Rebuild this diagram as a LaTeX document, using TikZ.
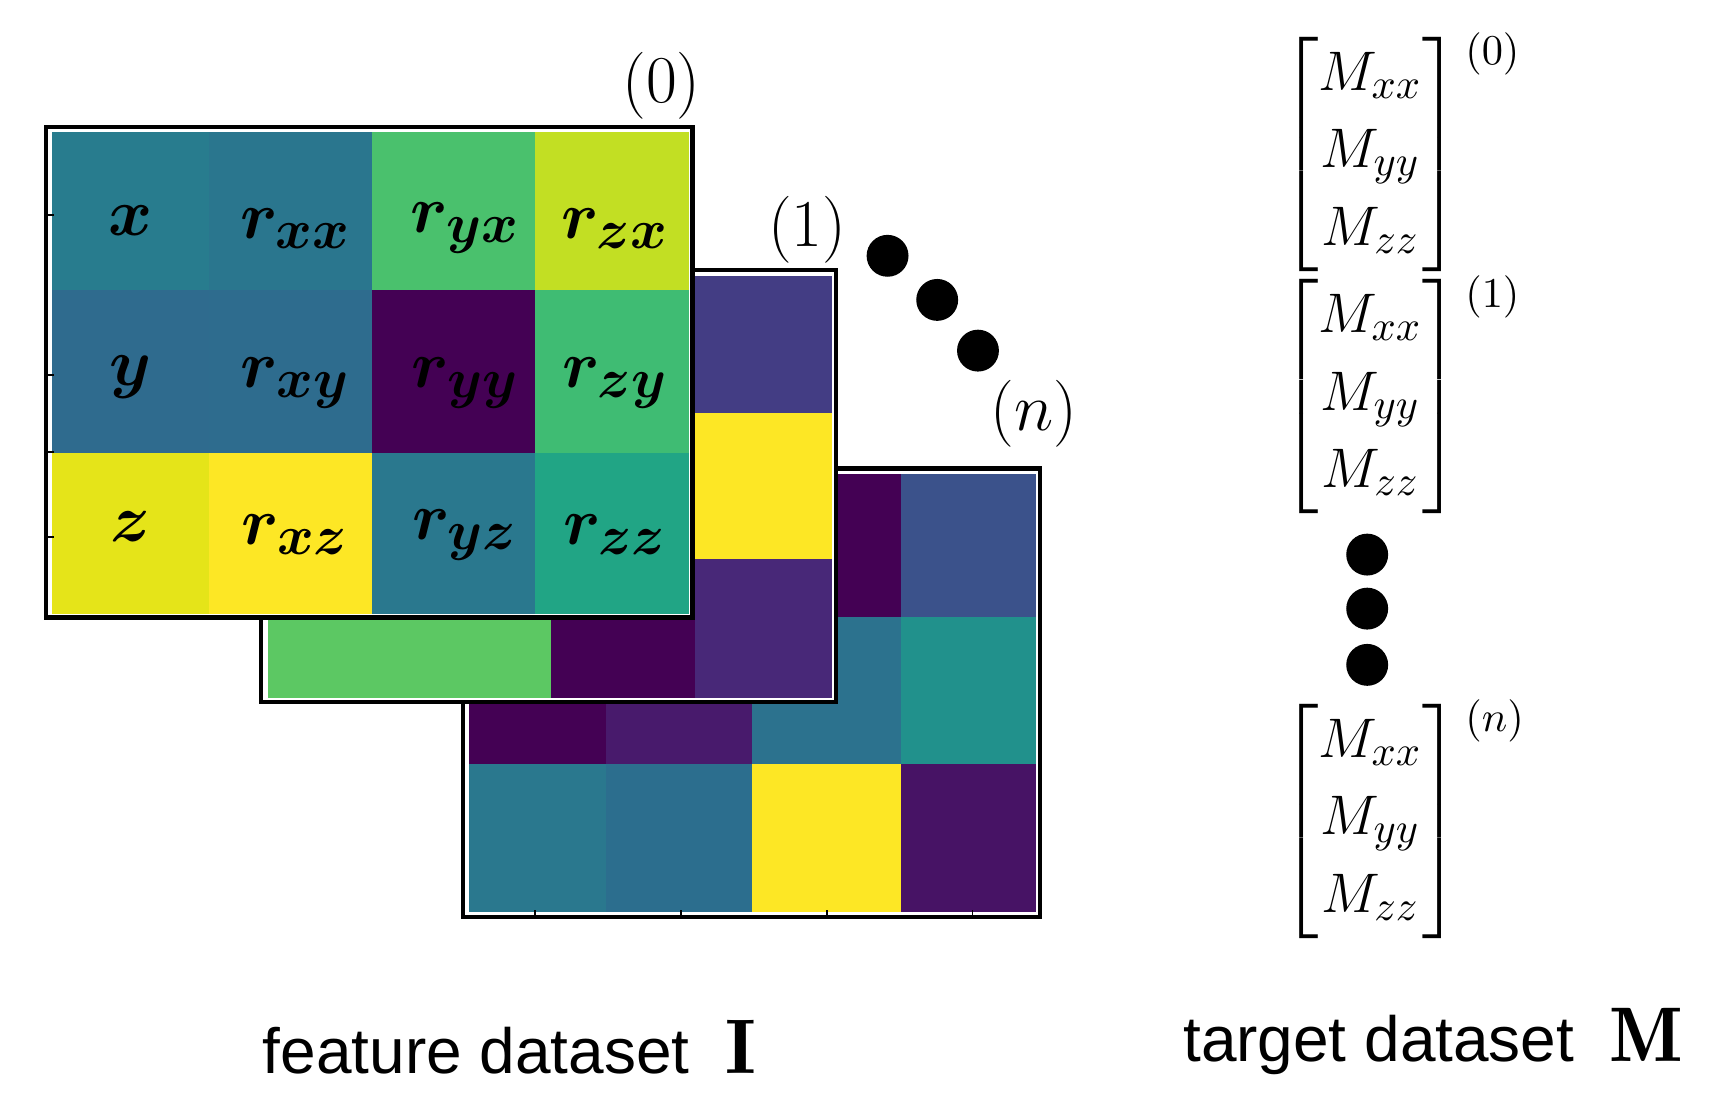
\documentclass[tikz,border=0pt]{standalone}
\usepackage{amsmath,bm}
\usepackage{fontspec}
\newfontfamily\lab{Liberation Sans}
\begin{document}
\begin{tikzpicture}[x=0.1mm,y=-0.1mm,
  frame/.style={draw=black,line width=1.1pt,fill=white},
  ml/.style={font=\fontsize{19}{22}\selectfont},
  pl/.style={font=\fontsize{17}{20}\selectfont},
  mm/.style={font=\fontsize{15}{17}\selectfont},
  sup/.style={font=\fontsize{11}{13}\selectfont},
  dot/.style={circle,fill=black,inner sep=0pt,minimum size=3.8mm}]
\useasboundingbox (0,0) rectangle (1560,1000);
\definecolor{c1}{HTML}{287C8E}\definecolor{c2}{HTML}{2A768E}\definecolor{c3}{HTML}{4AC16D}\definecolor{c4}{HTML}{C2DF23}
\definecolor{c5}{HTML}{2F6B8E}\definecolor{c6}{HTML}{2E6C8E}\definecolor{c7}{HTML}{440154}\definecolor{c8}{HTML}{3FBC73}
\definecolor{c9}{HTML}{E5E419}\definecolor{c10}{HTML}{FDE725}\definecolor{c11}{HTML}{2A788E}\definecolor{c12}{HTML}{21A585}
\definecolor{d1}{HTML}{3B528B}\definecolor{d2}{HTML}{481A6C}\definecolor{d3}{HTML}{2C728E}\definecolor{d4}{HTML}{21918C}
\definecolor{d5}{HTML}{2C6E8E}\definecolor{d6}{HTML}{471365}\definecolor{d7}{HTML}{433D84}\definecolor{d8}{HTML}{482878}
\definecolor{d9}{HTML}{5CC863}
% back matrix (n)
\node[frame,minimum width=52.3mm,minimum height=40.7mm,inner sep=0pt] (bn) at (681.5,628.5) {};
\fill[c7] (420,430) rectangle (550,560);\fill[c7] (550,430) rectangle (682,560);
\fill[c7] (682,430) rectangle (817,560);\fill[d1] (817,430) rectangle (940,560);
\fill[c7] (425,560) rectangle (550,693);\fill[d2] (550,560) rectangle (682,693);
\fill[d3] (682,560) rectangle (817,693);\fill[d4] (817,560) rectangle (940,693);
\fill[c11] (425,693) rectangle (550,827);\fill[d5] (550,693) rectangle (682,827);
\fill[c10] (682,693) rectangle (817,827);\fill[d6] (817,693) rectangle (940,827);
\foreach \t in {485,618,750,882} \draw[line width=0.5pt] (\t,832) -- (\t,825);
% middle matrix (1)
\node[frame,minimum width=52.1mm,minimum height=39.2mm,inner sep=0pt] (b1) at (497.5,441) {};
\fill[d7] (630,250) rectangle (755,375);
\fill[c10] (630,375) rectangle (755,507);
\fill[d8] (630,507) rectangle (755,633);
\fill[d9] (243,507) rectangle (500,633);
\fill[c7] (500,507) rectangle (630,633);
% front matrix (0)
\node[frame,minimum width=58.6mm,minimum height=44.5mm,inner sep=0pt] (b0) at (335,337.5) {};
\foreach \c/\xa/\xb/\ya/\yb in {c1/47/190/120/263,c2/190/337/120/263,c3/337/485/120/263,c4/485/625/120/263,
 c5/47/190/263/411,c6/190/337/263/411,c7/337/485/263/411,c8/485/625/263/411,
 c9/47/190/411/557,c10/190/337/411/557,c11/337/485/411/557,c12/485/625/411/557}
 \fill[\c] (\xa,\ya) rectangle (\xb,\yb);
\foreach \t in {195,340,410,487} \draw[line width=0.5pt] (42,\t) -- (49,\t);
\foreach \s/\x/\y in {{\bm{x}}/118/200,{\bm{r}_{\bm{xx}}}/268/207,{\bm{r}_{\bm{yx}}}/422/207,{\bm{r}_{\bm{zx}}}/558/207,
 {\bm{y}}/118/342,{\bm{r}_{\bm{xy}}}/268/347,{\bm{r}_{\bm{yy}}}/422/347,{\bm{r}_{\bm{zy}}}/558/347,
 {\bm{z}}/118/478,{\bm{r}_{\bm{xz}}}/268/485,{\bm{r}_{\bm{yz}}}/422/485,{\bm{r}_{\bm{zz}}}/558/485}
 \node[ml] (l\x\y) at (\x,\y) {$\s$};
\node[pl] (t0) at (600,78) {$(0)$};
\node[pl] (t1) at (732,208) {$(1)$};
\node[pl] (tn) at (938,375) {$(n)$};
\node[dot] (p1) at (805,232) {};\node[dot] (p2) at (850,272) {};\node[dot] (p3) at (887,318) {};
% target matrices
\foreach \y/\s/\n in {140/(0)/m0,360/(1)/m1,745/(n)/mn}{
 \node[mm,inner sep=0pt] (\n) at (1243,\y) {$\begin{bmatrix}M_{xx}\\[3pt] M_{yy}\\[3pt] M_{zz}\end{bmatrix}$};
 \node[sup,anchor=south west,inner sep=0pt] at ([xshift=0.4mm,yshift=-3.6mm]\n.north east) {$\s$};}
\node[dot] (e1) at (1240,503) {};\node[dot] (e2) at (1240,552) {};\node[dot] (e3) at (1240,603) {};
\node[font=\lab\fontsize{16.5}{20}\selectfont] (fl) at (462,950) {feature dataset\ \ {\fontsize{20}{22}\selectfont$\mathbf{I}$}};
\node[font=\lab\fontsize{16.5}{20}\selectfont] (tl) at (1300,945) {target dataset\ \ {\fontsize{20}{22}\selectfont$\mathbf{M}$}};
\end{tikzpicture}
\end{document}
